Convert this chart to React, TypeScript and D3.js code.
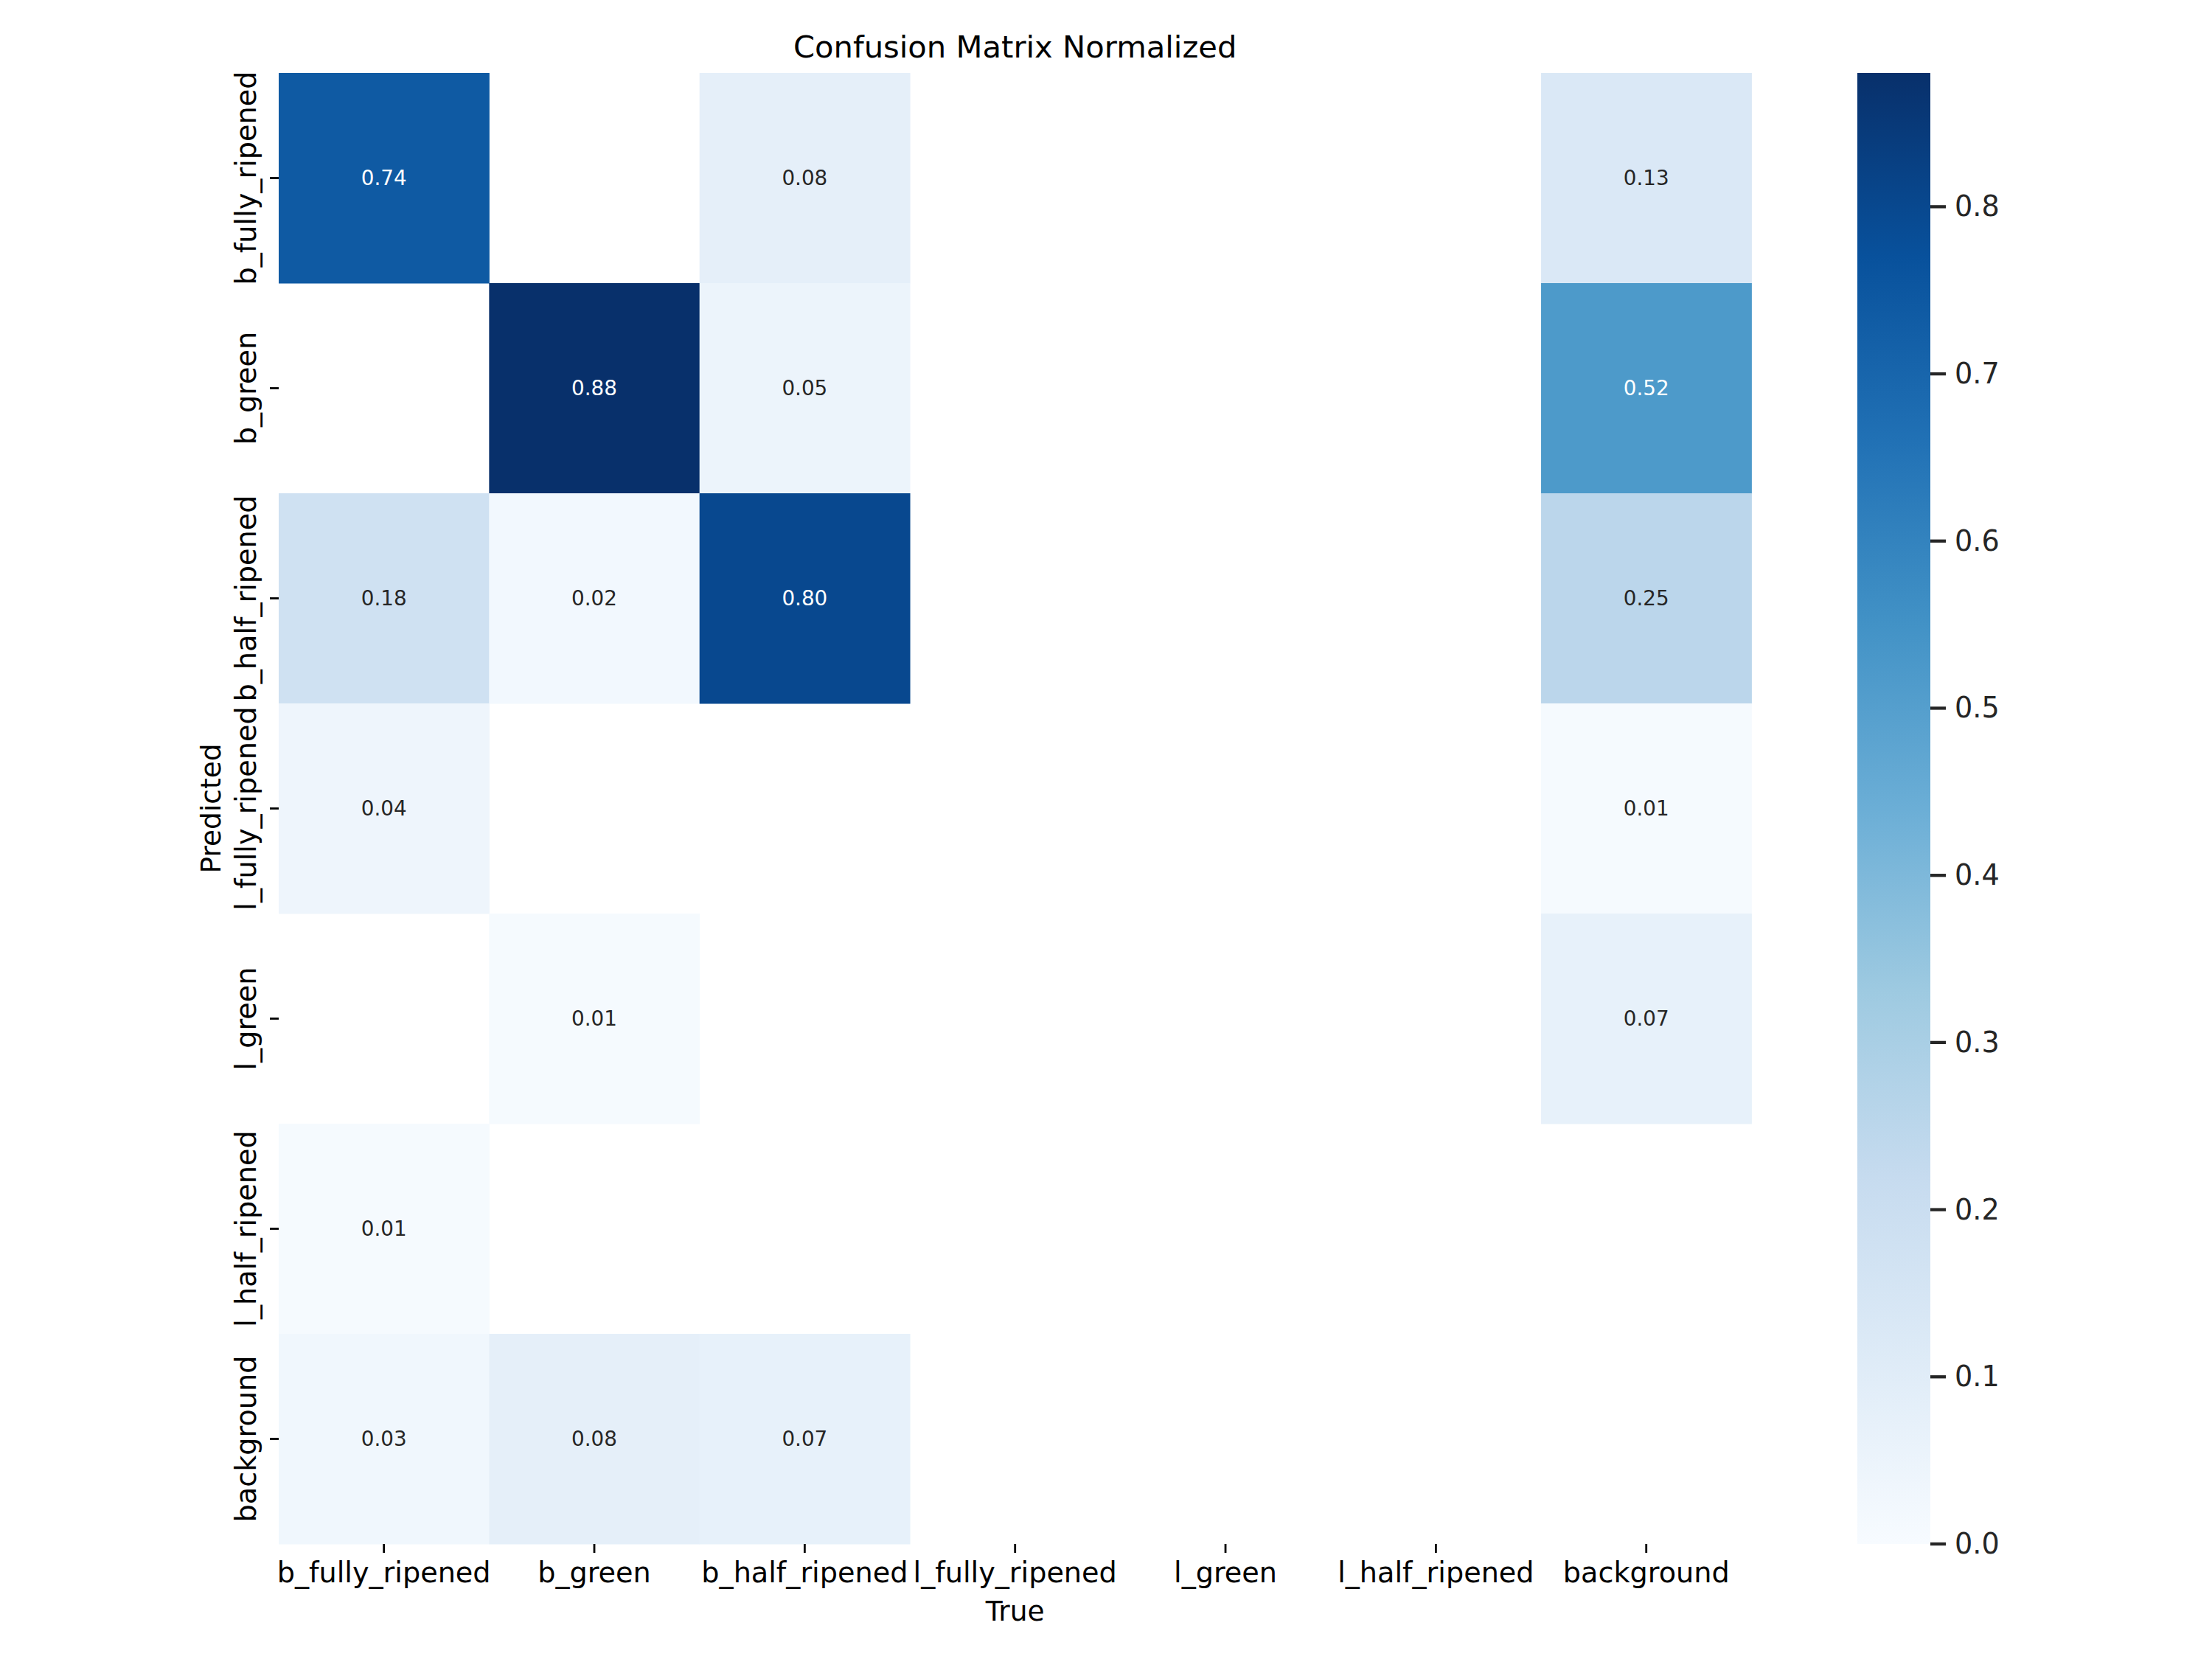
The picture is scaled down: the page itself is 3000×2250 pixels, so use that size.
import { scaleBand, scaleLinear, color as d3color } from "d3";

// class labels (rows = Predicted, columns = True)
const labels = [
  "b_fully_ripened",
  "b_green",
  "b_half_ripened",
  "l_fully_ripened",
  "l_green",
  "l_half_ripened",
  "background",
];

// normalized values per predicted row, null = blank cell (< 0.005)
const rowBFully = [0.74, null, 0.08, null, null, null, 0.13];
const rowBGreen = [null, 0.88, 0.05, null, null, null, 0.52];
const rowBHalf = [0.18, 0.02, 0.8, null, null, null, 0.25];
const rowLFully = [0.04, null, null, null, null, null, 0.01];
const rowLGreen = [null, 0.01, null, null, null, null, 0.07];
const rowLHalf = [0.01, null, null, null, null, null, null];
const rowBackground = [0.03, 0.08, 0.07, null, null, null, null];

const matrix: (number | null)[][] = [
  rowBFully,
  rowBGreen,
  rowBHalf,
  rowLFully,
  rowLGreen,
  rowLHalf,
  rowBackground,
];

// matplotlib "Blues" segment colours
const bluesStops = [
  "#f7fbff",
  "#deebf7",
  "#c6dbef",
  "#9ecae1",
  "#6baed6",
  "#4292c6",
  "#2171b5",
  "#08519c",
  "#08306b",
];

const colorbarTicks = [0, 0.1, 0.2, 0.3, 0.4, 0.5, 0.6, 0.7, 0.8];

const W = 3000;
const H = 2250;
const FONT = "'DejaVu Sans', sans-serif";

// relative luminance, same rule seaborn uses to pick annotation colour
function luminance(c: string) {
  const rgb = d3color(c)!.rgb();
  const lin = (v: number) => {
    const s = v / 255;
    return s <= 0.03928 ? s / 12.92 : Math.pow((s + 0.055) / 1.055, 2.4);
  };
  return 0.2126 * lin(rgb.r) + 0.7152 * lin(rgb.g) + 0.0722 * lin(rgb.b);
}

export default function App() {
  const vmax = Math.max(...matrix.flat().filter((v): v is number => v != null));

  const left = 378;
  const right = 2375.4;
  const top = 99;
  const bottom = 2094;

  const x = scaleBand<string>().domain(labels).range([left, right]).padding(0);
  const y = scaleBand<string>().domain(labels).range([top, bottom]).padding(0);

  const colorScale = scaleLinear<string>()
    .domain(bluesStops.map((_, i) => (i / (bluesStops.length - 1)) * vmax))
    .range(bluesStops)
    .clamp(true);

  const cbLeft = 2519;
  const cbRight = 2618;
  const cbY = scaleLinear().domain([0, vmax]).range([bottom, top]);

  const cx = (left + right) / 2;
  const cy = (top + bottom) / 2;

  const tickFont = 38.2;
  const labelFont = 37.5;

  return (
    <svg
      width={W}
      height={H}
      style={{ position: "absolute", left: 0, top: 0, background: "#fff" }}
      fontFamily={FONT}
    >
      <defs>
        <linearGradient id="cbGrad" x1="0" y1="1" x2="0" y2="0">
          {bluesStops.map((c, i) => (
            <stop key={i} offset={i / (bluesStops.length - 1)} stopColor={c} />
          ))}
        </linearGradient>
      </defs>
      <rect width={W} height={H} fill="#fff" />

      {/* cells */}
      {matrix.map((row, ri) =>
        row.map((v, ci) => {
          if (v == null) return null;
          const fill = colorScale(v);
          const txtColor = luminance(fill) > 0.408 ? "#262626" : "#ffffff";
          const x0 = x(labels[ci])!;
          const y0 = y(labels[ri])!;
          return (
            <g key={`c-${ri}-${ci}`}>
              <rect
                x={x0}
                y={y0}
                width={x.bandwidth() + 0.5}
                height={y.bandwidth() + 0.5}
                fill={fill}
              />
              <text
                x={x0 + x.bandwidth() / 2}
                y={y0 + y.bandwidth() / 2}
                textAnchor="middle"
                dominantBaseline="central"
                fontSize={27.8}
                fill={txtColor}
              >
                {v.toFixed(2)}
              </text>
            </g>
          );
        })
      )}

      {/* x axis ticks */}
      {labels.map((l) => {
        const px = x(l)! + x.bandwidth() / 2;
        return (
          <g key={`xt-${l}`}>
            <line x1={px} x2={px} y1={bottom} y2={bottom + 12} stroke="#000" strokeWidth={2.8} />
            <text x={px} y={2146} textAnchor="middle" fontSize={tickFont} fill="#000">
              {l}
            </text>
          </g>
        );
      })}

      {/* y axis ticks */}
      {labels.map((l) => {
        const py = y(l)! + y.bandwidth() / 2;
        return (
          <g key={`yt-${l}`}>
            <line x1={left - 12} x2={left} y1={py} y2={py} stroke="#000" strokeWidth={2.8} />
            <text
              transform={`translate(347,${py}) rotate(-90)`}
              textAnchor="middle"
              fontSize={tickFont}
              fill="#000"
            >
              {l}
            </text>
          </g>
        );
      })}

      {/* axis labels and title */}
      <text x={cx} y={2198} textAnchor="middle" fontSize={labelFont} fill="#000">
        True
      </text>
      <text
        transform={`translate(299,${cy}) rotate(-90)`}
        textAnchor="middle"
        fontSize={labelFont}
        fill="#000"
      >
        Predicted
      </text>
      <text x={cx} y={78} textAnchor="middle" fontSize={41.7} fill="#000">
        Confusion Matrix Normalized
      </text>

      {/* colorbar */}
      <rect
        x={cbLeft}
        y={top}
        width={cbRight - cbLeft}
        height={bottom - top}
        fill="url(#cbGrad)"
      />
      {colorbarTicks.map((t) => (
        <g key={`cb-${t}`}>
          <line
            x1={cbRight}
            x2={cbRight + 21}
            y1={cbY(t)}
            y2={cbY(t)}
            stroke="#262626"
            strokeWidth={4.3}
          />
          <text
            x={2651}
            y={cbY(t)}
            dominantBaseline="central"
            fontSize={38.2}
            fill="#262626"
          >
            {t.toFixed(1)}
          </text>
        </g>
      ))}
    </svg>
  );
}
